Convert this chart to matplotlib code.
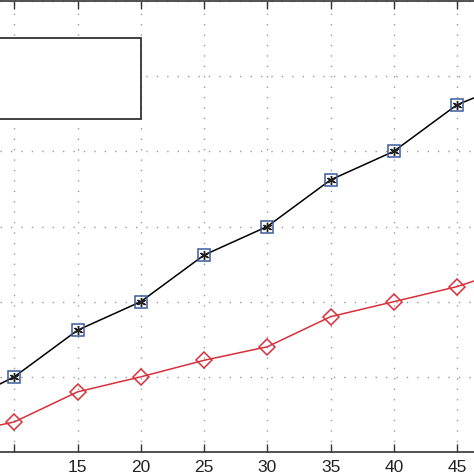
import matplotlib.pyplot as plt
from matplotlib.patches import Rectangle

plt.rcParams['font.family'] = ['Liberation Sans', 'DejaVu Sans']

# x values (the crop only shows 10..45 fully)
x = [5, 10, 15, 20, 25, 30, 35, 40, 45, 50]
black_vals = [2.9, 5.0, 8.1, 10.0, 13.1, 15.0, 18.1, 20.0, 23.1, 24.8]
red_vals = [1.1, 2.0, 4.0, 5.0, 6.1, 7.0, 9.0, 10.0, 11.0, 12.4]
xticks = [10, 15, 20, 25, 30, 35, 40, 45]
xlabels = ['', '15', '20', '25', '30', '35', '40', '45']
yticks = [0, 5, 10, 15, 20, 25, 30]

fig = plt.figure(figsize=(4.74, 4.74), dpi=100)
ax = fig.add_axes([0, 22 / 474, 1, 451 / 474])

ax.plot(x, black_vals, '-', color='black', lw=1.1, zorder=3)
ax.plot(x, black_vals, 's', ms=8.5, mfc='none', mec='#3b5b9c', mew=1.1, zorder=4)
ax.plot(x, black_vals, marker=(6, 2, 0), ls='none', ms=6.5, color='#222222', mew=1.0, zorder=5)
ax.plot(x, red_vals, '-', color='#d8303a', lw=1.1, marker='D', ms=8.5,
        mfc='none', mec='#d8303a', mew=1.1, zorder=3)

ax.set_xlim(8.87, 46.34)
ax.set_ylim(0, 30)
ax.set_xticks(xticks)
ax.set_xticklabels(xlabels)
ax.set_yticks(yticks)
ax.grid(True, color='#999999', linestyle=(0, (1, 6.5)), lw=1)

for side in ['left', 'right']:
    ax.spines[side].set_visible(False)
for side in ['top', 'bottom']:
    ax.spines[side].set_color('#333333')
    ax.spines[side].set_linewidth(1.2)

ax.tick_params(axis='x', direction='in', top=True, bottom=True, length=6,
               width=1, color='#333333', labelsize=12.5, labelcolor='#222222', pad=6)
ax.tick_params(axis='y', left=False, right=False, labelleft=False)

# legend box (its contents fall outside the crop)
fig.patches.append(Rectangle((-0.05, 355 / 474), 0.05 + 141 / 474, 81 / 474,
                             transform=fig.transFigure, facecolor='white',
                             edgecolor='#333333', lw=1.3, zorder=10))

fig.savefig('out.png', dpi=100, facecolor='white')
